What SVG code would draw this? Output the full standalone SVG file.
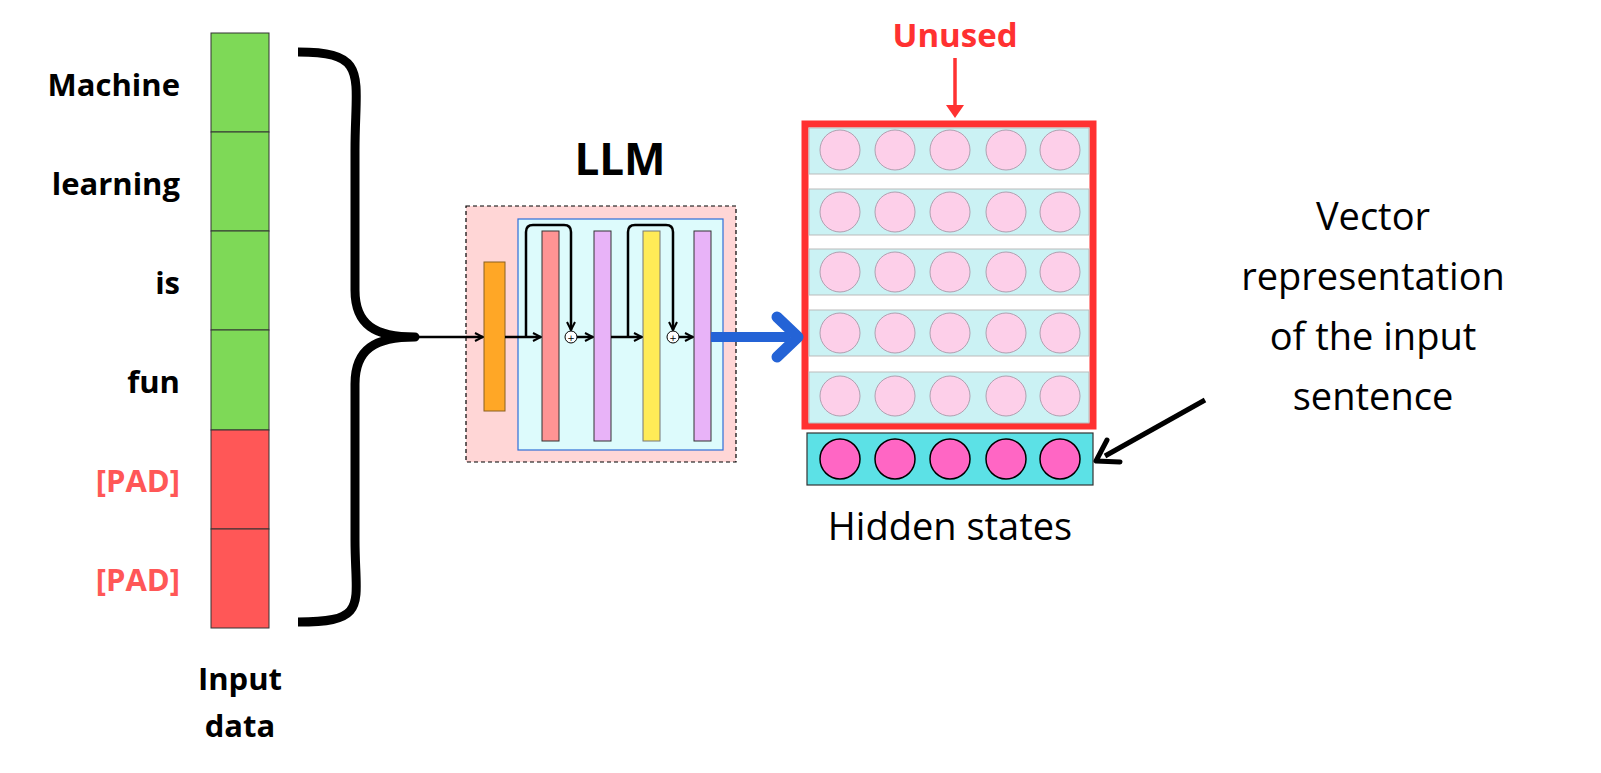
<svg xmlns="http://www.w3.org/2000/svg" width="1601" height="773" viewBox="0 0 1601 773">
<defs>
<style>
.lb{font-family:"Open Sans","Liberation Sans",sans-serif;font-weight:bold;font-size:31px;text-anchor:end}
.cap{font-family:"Open Sans","Liberation Sans",sans-serif;font-size:38px;text-anchor:middle;fill:#000}
.g{fill:#7ed957;stroke:#333;stroke-width:1}
.r{fill:#ff5757;stroke:#333;stroke-width:1}
.band{fill:#cbf2f4;stroke:#bbb;stroke-width:1}
.pc{fill:#fdcfe9;stroke:#b0a0b0;stroke-width:1}
.hc{fill:#ff66c4;stroke:#000;stroke-width:1.5}
.ln{stroke:#000;stroke-width:2.5;fill:none}
</style>
<marker id="a" viewBox="0 0 10 10" refX="9" refY="5" markerWidth="4" markerHeight="4" orient="auto"><path d="M1,1 L9,5 L1,9" fill="none" stroke="#000" stroke-width="2"/></marker>
</defs>
<rect width="1601" height="773" fill="#fff"/>
<g id="tokens">
<rect class="g" x="211" y="33" width="58" height="99"/>
<rect class="g" x="211" y="132" width="58" height="99"/>
<rect class="g" x="211" y="231" width="58" height="99"/>
<rect class="g" x="211" y="330" width="58" height="100"/>
<rect class="r" x="211" y="430" width="58" height="99"/>
<rect class="r" x="211" y="529" width="58" height="99"/>
<text class="lb" x="180" y="96">Machine</text>
<text class="lb" x="180" y="195">learning</text>
<text class="lb" x="180" y="294">is</text>
<text class="lb" x="180" y="393">fun</text>
<text class="lb" x="180" y="492" fill="#ff5757">[PAD]</text>
<text class="lb" x="180" y="591" fill="#ff5757">[PAD]</text>
<text class="lb" x="240" y="690" style="text-anchor:middle">Input</text>
<text class="lb" x="240" y="737" style="text-anchor:middle">data</text>
</g>
<g id="brace">
<path d="M298,52 C370,52 355,75 355,150 L355,290 C355,325 375,337 415,337 C375,337 355,349 355,384 L355,540 C355,605 370,622 298,622" fill="none" stroke="#000" stroke-width="9" stroke-linejoin="round"/>
</g>
<g id="llm">
<text x="620" y="175" font-family="Open Sans, Liberation Sans, sans-serif" font-weight="bold" font-size="44" text-anchor="middle">LLM</text>
<rect x="466" y="206" width="270" height="256" fill="#ffd6d6" stroke="#000" stroke-width="1.2" stroke-dasharray="4,3"/>
<rect x="518" y="219" width="205" height="231" fill="#ddfbfc" stroke="#2f6ed8" stroke-width="1.2"/>
<rect x="484" y="262" width="21" height="149" fill="#ffa726" stroke="#8a6020" stroke-width="1"/>
<rect x="542" y="231" width="17" height="210" fill="#ff9494" stroke="#333" stroke-width="1"/>
<rect x="594" y="231" width="17" height="210" fill="#e8b3f8" stroke="#333" stroke-width="1"/>
<rect x="643" y="231" width="17" height="210" fill="#ffeb57" stroke="#777" stroke-width="1"/>
<rect x="694" y="231" width="17" height="210" fill="#e8b3f8" stroke="#333" stroke-width="1"/>
<circle cx="571" cy="337" r="6" fill="#fff" stroke="#000"/>
<circle cx="673" cy="337" r="6" fill="#fff" stroke="#000"/>
<text x="571" y="340.5" font-family="DejaVu Sans, sans-serif" font-size="9" text-anchor="middle">+</text>
<text x="673" y="340.5" font-family="DejaVu Sans, sans-serif" font-size="9" text-anchor="middle">+</text>
</g>
<g id="hidden">
<rect x="805" y="124" width="288" height="302" fill="#fff" stroke="#ff3131" stroke-width="7"/>
<rect class="band" x="809" y="128" width="280" height="46"/>
<rect class="band" x="809" y="189" width="280" height="46"/>
<rect class="band" x="809" y="249" width="280" height="46"/>
<rect class="band" x="809" y="310" width="280" height="46"/>
<rect class="band" x="809" y="372" width="280" height="51"/>
<g id="rows">
<circle class="pc" cx="840" cy="150" r="20"/><circle class="pc" cx="895" cy="150" r="20"/><circle class="pc" cx="950" cy="150" r="20"/><circle class="pc" cx="1006" cy="150" r="20"/><circle class="pc" cx="1060" cy="150" r="20"/>
<circle class="pc" cx="840" cy="212" r="20"/><circle class="pc" cx="895" cy="212" r="20"/><circle class="pc" cx="950" cy="212" r="20"/><circle class="pc" cx="1006" cy="212" r="20"/><circle class="pc" cx="1060" cy="212" r="20"/>
<circle class="pc" cx="840" cy="272" r="20"/><circle class="pc" cx="895" cy="272" r="20"/><circle class="pc" cx="950" cy="272" r="20"/><circle class="pc" cx="1006" cy="272" r="20"/><circle class="pc" cx="1060" cy="272" r="20"/>
<circle class="pc" cx="840" cy="333" r="20"/><circle class="pc" cx="895" cy="333" r="20"/><circle class="pc" cx="950" cy="333" r="20"/><circle class="pc" cx="1006" cy="333" r="20"/><circle class="pc" cx="1060" cy="333" r="20"/>
<circle class="pc" cx="840" cy="396" r="20"/><circle class="pc" cx="895" cy="396" r="20"/><circle class="pc" cx="950" cy="396" r="20"/><circle class="pc" cx="1006" cy="396" r="20"/><circle class="pc" cx="1060" cy="396" r="20"/>
</g>
<rect x="807" y="433" width="286" height="52" fill="#5ce1e6" stroke="#333" stroke-width="1.2"/>
<circle class="hc" cx="840" cy="459" r="20"/><circle class="hc" cx="895" cy="459" r="20"/><circle class="hc" cx="950" cy="459" r="20"/><circle class="hc" cx="1006" cy="459" r="20"/><circle class="hc" cx="1060" cy="459" r="20"/>
<text class="cap" x="950" y="540">Hidden states</text>
<text x="955" y="47" font-family="Open Sans, Liberation Sans, sans-serif" font-weight="bold" font-size="33" fill="#ff3131" text-anchor="middle">Unused</text>
</g>
<g id="vector">
<text class="cap" x="1373" y="230">Vector</text>
<text class="cap" x="1373" y="290">representation</text>
<text class="cap" x="1373" y="350">of the input</text>
<text class="cap" x="1373" y="410">sentence</text>
</g>
<g id="connectors">
<line class="ln" x1="415" y1="337" x2="483" y2="337" marker-end="url(#a)"/>
<line class="ln" x1="505" y1="337" x2="541" y2="337" marker-end="url(#a)"/>
<path class="ln" d="M526,337 V232 Q526,225 533,225 H564 Q571,225 571,232 V330" marker-end="url(#a)"/>
<line class="ln" x1="577" y1="337" x2="593" y2="337" marker-end="url(#a)"/>
<line class="ln" x1="611" y1="337" x2="642" y2="337" marker-end="url(#a)"/>
<path class="ln" d="M628,337 V232 Q628,225 635,225 H666 Q673,225 673,232 V330" marker-end="url(#a)"/>
<line class="ln" x1="679" y1="337" x2="693" y2="337" marker-end="url(#a)"/>
<line x1="711" y1="337" x2="790" y2="337" stroke="#2463d6" stroke-width="10"/>
<path d="M777,317 L798,337 L777,357" fill="none" stroke="#2463d6" stroke-width="11" stroke-linecap="round" stroke-linejoin="round"/>
<line x1="955" y1="58" x2="955" y2="112" stroke="#ff3131" stroke-width="3.5"/>
<path d="M946,105 L955,118 L964,105 Z" fill="#ff3131"/>
<line x1="1205" y1="400" x2="1105" y2="456" stroke="#000" stroke-width="5"/>
<path d="M1107,440 L1096,461 L1120,462" fill="none" stroke="#000" stroke-width="5" stroke-linecap="round" stroke-linejoin="round"/>
</g>
</svg>
